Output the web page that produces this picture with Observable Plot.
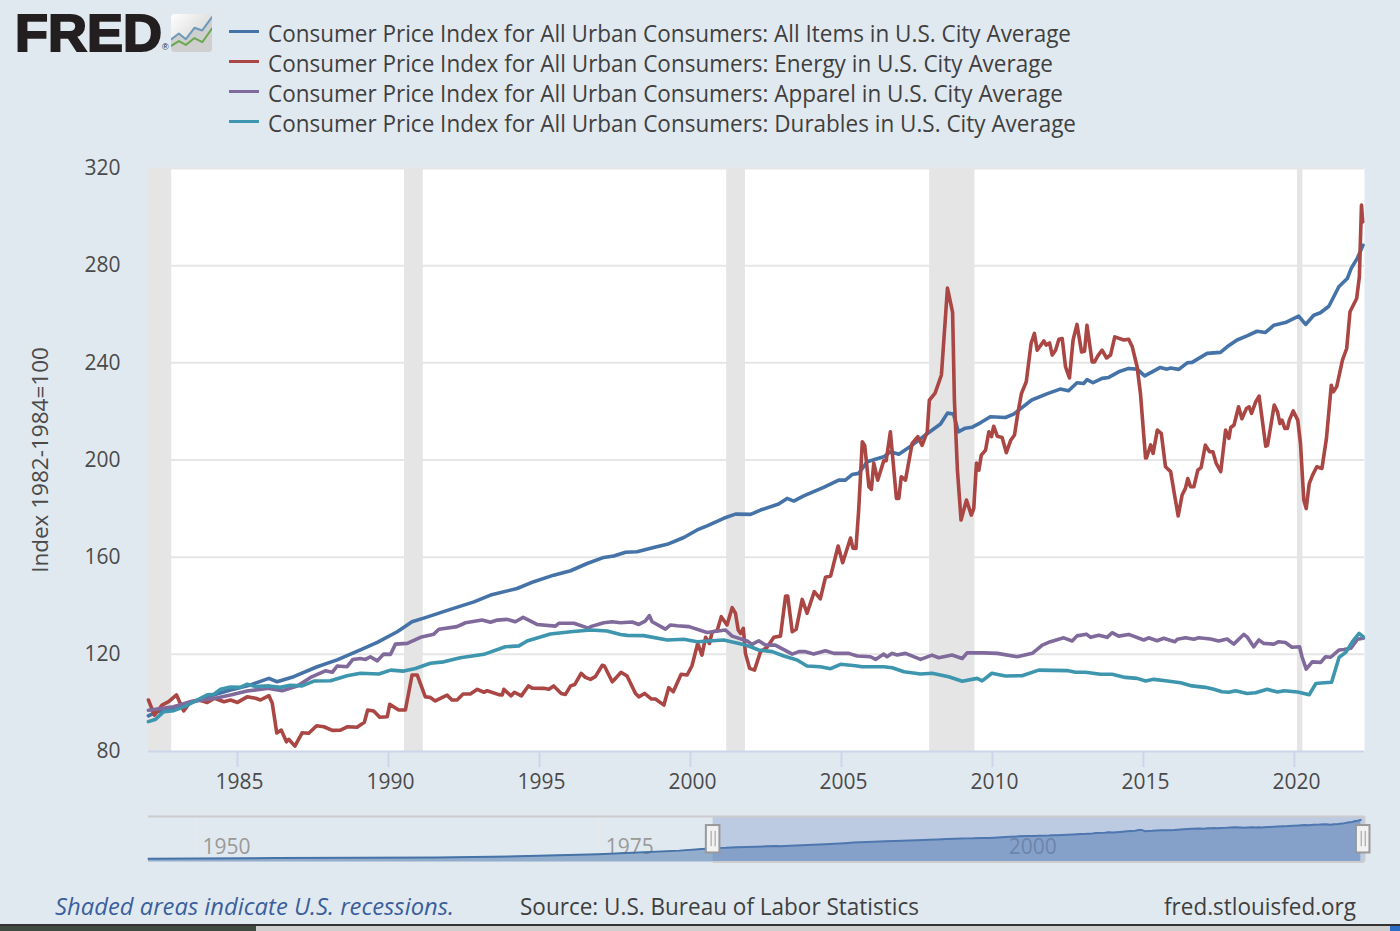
<!DOCTYPE html>
<html><head><meta charset="utf-8">
<script src="https://cdn.jsdelivr.net/npm/d3@7"></script>
<script src="https://cdn.jsdelivr.net/npm/@observablehq/plot@0.6"></script>
<style>
html,body{margin:0;padding:0;background:#e1e9f0;width:1400px;height:931px;overflow:hidden;font-family:"Open Sans",sans-serif;color:#444}
svg{display:block}
#header{position:relative;height:150px}
#logo{position:absolute;left:15px;top:1px;font:bold 52px/64px "Liberation Sans",sans-serif;color:#231f20;-webkit-text-stroke:2px #231f20;white-space:nowrap;transform-origin:0 50%}
#reg{position:absolute;left:162px;top:42px;font:9px "Liberation Sans";color:#231f20}
#icon{position:absolute;left:171px;top:14px}
.leg{position:absolute;left:229px;height:30px}
.sw{position:absolute;left:0;top:13.5px;width:30px;height:3.5px}
.lt{position:absolute;left:39px;top:0;font-size:23px;line-height:34px;white-space:nowrap;transform-origin:0 50%;color:#3f3f3f}
#footer{position:relative;height:54px}
.ft{position:absolute;top:18px;font-size:23px;line-height:36px;white-space:nowrap;transform-origin:0 50%;color:#3f3f3f}
#strip{position:relative;height:7px;background:#cfcfcf;border-top:2px solid #333;box-sizing:border-box}
#strip i{position:absolute;left:0;top:0;bottom:0;width:256px;background:#3f4a40}
#strip b{position:absolute;right:0;top:0;bottom:0;width:10px;background:#2b6cc4}
</style></head><body>
<div id="header">
  <div id="logo">FRED</div><div id="reg">®</div><div id="icon"></div>
</div>
<div id="main"></div>
<div id="nav"></div>
<div id="footer">
  <span class="ft" id="f1" style="left:55px;font-style:italic;color:#3a5f9c">Shaded areas indicate U.S. recessions.</span>
  <span class="ft" id="f2" style="left:520px">Source: U.S. Bureau of Labor Statistics</span>
  <span class="ft" id="f3" style="left:1164px">fred.stlouisfed.org</span>
</div>
<div id="strip"><i></i><b></b></div>
<script>
const seriesNames = [
  "Consumer Price Index for All Urban Consumers: All Items in U.S. City Average",
  "Consumer Price Index for All Urban Consumers: Energy in U.S. City Average",
  "Consumer Price Index for All Urban Consumers: Apparel in U.S. City Average",
  "Consumer Price Index for All Urban Consumers: Durables in U.S. City Average"
];
const seriesColors = ["#4572a7","#aa4643","#80699b","#3d96ae"];
const yTicks = [80,120,160,200,240,280,320];
const xTicks = [1985,1990,1995,2000,2005,2010,2015,2020];
const navTicks = [1950,1975,2000];
const yAxisLabel = "Index 1982-1984=100";
const recessionStart = [1982.053,1990.53,2001.2,2007.92,2020.1];
const recessionEnd = [1982.82,1991.15,2001.82,2009.42,2020.28];

const cpiAll = [[1982.05,94.7],[1982.33,96.4],[1982.9,97.5],[1983.55,100.5],[1984.2,103.3],[1984.77,105.3],[1985.43,107.4],[1986.04,110.1],[1986.31,108.7],[1986.86,110.8],[1987.64,114.9],[1988.3,117.7],[1989.07,121.8],[1989.63,124.9],[1990.29,129.3],[1990.78,133.4],[1991.22,135.1],[1992.05,138.5],[1992.83,141.6],[1993.38,144.4],[1994.26,147.1],[1994.81,149.9],[1995.47,152.6],[1996.03,154.4],[1996.58,157.4],[1997.13,159.9],[1997.46,160.5],[1997.85,162],[1998.23,162.2],[1998.78,164],[1999.23,165.3],[1999.78,168.1],[2000.22,171.2],[2000.55,172.9],[2001.1,176],[2001.49,177.7],[2001.99,177.6],[2002.32,179.4],[2002.92,181.9],[2003.2,184.2],[2003.42,183.1],[2003.75,185.2],[2004.41,188.7],[2004.91,191.7],[2005.13,191.7],[2005.35,194],[2005.57,194.5],[2005.85,199.3],[2006.4,201.3],[2006.62,203.4],[2006.9,202.4],[2007.34,206.1],[2007.78,210.3],[2008.28,214.8],[2008.51,219.3],[2008.71,218.9],[2008.87,211.6],[2009.1,213.1],[2009.33,213.5],[2009.6,215.3],[2009.93,217.8],[2010.43,217.5],[2010.7,218.9],[2011.3,224.7],[2011.8,227.2],[2012.24,229.2],[2012.52,228.5],[2012.8,231.8],[2013.02,231.5],[2013.13,233.1],[2013.33,231.8],[2013.63,233.6],[2013.85,234],[2014.18,236.3],[2014.51,237.7],[2014.79,237.4],[2015.04,234.6],[2015.29,236.3],[2015.56,238.1],[2015.78,237.4],[2015.9,237.9],[2016.17,237.3],[2016.45,240],[2016.61,240.2],[2017.11,243.9],[2017.55,244.3],[2017.77,246.6],[2018.1,249.4],[2018.43,251.1],[2018.76,253],[2019.04,252.5],[2019.32,255.5],[2019.7,256.6],[2020.14,259.2],[2020.37,255.8],[2020.64,259.6],[2020.86,260.6],[2021.14,263.3],[2021.47,271.3],[2021.75,274.7],[2021.88,278.9],[2022.08,283],[2022.27,288.4]];

const cpiEnergy = [[1982.05,101.2],[1982.25,95],[1982.5,99.1],[1982.72,100.5],[1982.98,103.3],[1983.22,96.7],[1983.44,100.5],[1983.72,101.2],[1984,100.2],[1984.24,101.9],[1984.55,100.5],[1984.77,101.2],[1985,100.2],[1985.32,102.5],[1985.6,101.9],[1985.76,101.2],[1986.04,103],[1986.15,100],[1986.3,87.6],[1986.45,88.8],[1986.62,84],[1986.7,85],[1986.9,82.2],[1987.14,87.7],[1987.36,87.5],[1987.62,90.6],[1987.86,90.2],[1988.14,88.7],[1988.41,88.8],[1988.65,90.2],[1988.96,90],[1989.2,92],[1989.31,97.1],[1989.51,96.7],[1989.71,94.1],[1989.96,94.3],[1990.04,99.4],[1990.34,97.1],[1990.56,97.1],[1990.78,111.5],[1990.95,111.5],[1991.22,102.5],[1991.37,102.3],[1991.55,100.8],[1991.94,103.2],[1992.1,101.2],[1992.27,101.2],[1992.47,103.7],[1992.71,103.7],[1992.94,105.6],[1993.16,104.4],[1993.27,105],[1993.65,103.4],[1993.77,103.3],[1993.82,105.6],[1994.06,102.9],[1994.17,104.4],[1994.4,102.9],[1994.63,107],[1994.76,106.1],[1995.14,106],[1995.31,105.6],[1995.47,107],[1995.72,103.9],[1995.86,103.5],[1996.03,107],[1996.17,107.6],[1996.38,112.2],[1996.52,110.5],[1996.69,109.7],[1996.85,110.8],[1997.08,115.5],[1997.15,115.2],[1997.41,108.7],[1997.52,110.1],[1997.7,112.6],[1997.9,111.1],[1998.18,103.9],[1998.29,102.5],[1998.48,103.9],[1998.71,101.6],[1998.84,101.6],[1999.12,99.1],[1999.28,106.3],[1999.43,104.6],[1999.69,111.8],[1999.89,111.5],[2000.05,115.3],[2000.24,124.5],[2000.38,119.7],[2000.5,127],[2000.63,124.5],[2000.72,129.3],[2000.88,129.6],[2001.02,135.5],[2001.21,132.1],[2001.38,139.2],[2001.49,136.9],[2001.58,130],[2001.66,128.6],[2001.75,130.7],[2001.82,120.4],[2001.96,114.2],[2002.12,113.5],[2002.32,121.1],[2002.54,122.9],[2002.76,127],[2002.98,127.5],[2003.15,144],[2003.22,144],[2003.37,129.3],[2003.5,130.3],[2003.7,142.6],[2003.86,136.9],[2004.1,145.8],[2004.3,142.8],[2004.47,151.7],[2004.64,152.2],[2004.89,164.6],[2005.04,157.7],[2005.3,167.9],[2005.38,163.7],[2005.48,163.6],[2005.57,179.4],[2005.69,207.5],[2005.77,206],[2005.91,189],[2005.99,187.9],[2006.07,198.7],[2006.2,191.7],[2006.4,199.7],[2006.48,199.7],[2006.62,211.6],[2006.82,184.2],[2006.9,184.2],[2006.98,193.1],[2007.12,191.7],[2007.34,206.8],[2007.53,209.6],[2007.67,206],[2007.84,211.6],[2007.91,224.6],[2008.1,227.5],[2008.31,235],[2008.51,270.8],[2008.68,260.8],[2008.74,224.6],[2008.84,195.8],[2008.96,175.3],[2009.14,183.5],[2009.3,177.3],[2009.38,180],[2009.47,198.7],[2009.55,195.8],[2009.63,202],[2009.77,204],[2009.88,211.6],[2009.97,209.6],[2010.04,213.9],[2010.16,209.8],[2010.32,209.3],[2010.46,203],[2010.6,208],[2010.73,210.3],[2010.84,219.2],[2010.96,227.4],[2011.12,232.2],[2011.28,248],[2011.39,252.1],[2011.48,245.2],[2011.7,249],[2011.78,247.3],[2011.89,248.2],[2011.98,243.2],[2012.09,245.2],[2012.2,249.7],[2012.31,250],[2012.42,238.3],[2012.55,233.8],[2012.67,249.4],[2012.8,255.8],[2012.95,244.5],[2013.05,244.8],[2013.13,255.5],[2013.3,240.4],[2013.38,240.4],[2013.49,242.9],[2013.63,245.2],[2013.78,242],[2013.91,243.2],[2014.05,250.7],[2014.35,249.4],[2014.51,249.7],[2014.63,246.6],[2014.79,238.4],[2014.9,227.5],[2015.07,200.8],[2015.1,200.8],[2015.24,206.2],[2015.32,202.7],[2015.46,212.3],[2015.59,211],[2015.73,197.2],[2015.9,195.2],[2016.04,184.9],[2016.15,177],[2016.28,185.6],[2016.39,188.3],[2016.47,192.4],[2016.56,189],[2016.67,189],[2016.8,195.8],[2016.91,196.9],[2017.05,206.1],[2017.19,203.4],[2017.3,203.4],[2017.41,198.6],[2017.56,195.2],[2017.72,212.3],[2017.83,208.9],[2017.89,213.4],[2018,214.4],[2018.15,221.9],[2018.26,217],[2018.41,221.2],[2018.5,221.9],[2018.58,219.2],[2018.72,224],[2018.83,226.3],[2019.05,205.7],[2019.11,206.1],[2019.33,222.6],[2019.44,219.8],[2019.52,215],[2019.59,216.4],[2019.68,213],[2019.77,213],[2019.83,216.4],[2019.96,220.2],[2020.11,216.4],[2020.2,206.8],[2020.31,183.5],[2020.39,180],[2020.49,190.3],[2020.6,193.8],[2020.74,197.2],[2020.91,196.5],[2021.06,208.9],[2021.22,230.8],[2021.29,228.1],[2021.4,230.2],[2021.59,241.1],[2021.73,245.9],[2021.84,261],[2022.06,266.5],[2022.15,275.4],[2022.22,305],[2022.26,298]];

const cpiApparel = [[1982.05,97],[1982.88,98.4],[1983.44,100.5],[1984.27,101.9],[1984.77,103.3],[1985.32,104.9],[1985.98,106],[1986.48,105],[1986.98,107],[1987.42,110.5],[1987.91,113.2],[1988.14,112.6],[1988.3,115.2],[1988.63,114.9],[1988.82,117.9],[1989.07,118.3],[1989.24,117.9],[1989.4,119],[1989.63,117.3],[1989.84,120.1],[1990.07,120],[1990.23,124.2],[1990.62,124.5],[1991.06,127],[1991.5,128.3],[1991.67,130.3],[1992.27,131.4],[1992.55,133],[1993.1,134.1],[1993.38,133.2],[1993.6,134.1],[1993.93,134.4],[1994.2,133.4],[1994.46,135.2],[1994.92,132.3],[1995.53,131.6],[1995.64,132.8],[1996.14,132.8],[1996.64,130.7],[1996.69,131.4],[1997.13,133],[1997.41,133.4],[1997.68,133],[1998.07,133.3],[1998.29,132.3],[1998.5,133.7],[1998.64,135.9],[1998.73,133.4],[1999.17,130.4],[1999.34,132.1],[1999.56,131.8],[1999.95,131.4],[2000.55,129],[2001.16,130],[2001.38,127.5],[2001.88,125.5],[2002.04,124.1],[2002.26,125.6],[2002.48,123.8],[2002.81,123.8],[2003.37,120.1],[2003.59,121.1],[2003.81,121.1],[2004.08,120.1],[2004.47,121.5],[2004.75,120.4],[2005.24,120.4],[2005.52,119.3],[2005.96,119],[2006.13,117.9],[2006.4,120.1],[2006.51,119],[2006.68,120.4],[2006.84,119.7],[2007.12,120.4],[2007.62,117.9],[2008,119.7],[2008.22,118.6],[2008.66,119.7],[2009,118.3],[2009.16,120.6],[2009.72,120.6],[2010.16,120.4],[2010.82,119],[2011.32,120.4],[2011.65,123.8],[2011.92,125.2],[2012.36,126.8],[2012.64,125.5],[2012.8,127.6],[2013.11,128.3],[2013.25,127],[2013.52,127.9],[2013.8,127],[2013.96,128.9],[2014.18,127.5],[2014.51,128.2],[2015.01,125.9],[2015.17,126.8],[2015.45,125.6],[2015.67,126.6],[2016.04,125.2],[2016.12,126.2],[2016.39,126.8],[2016.67,126.2],[2016.83,126.8],[2017.22,126.3],[2017.49,125.5],[2017.77,126.3],[2017.99,124.2],[2018.32,128.2],[2018.43,127.2],[2018.65,123.1],[2018.82,125.9],[2018.98,124.5],[2019.32,124.2],[2019.48,125.2],[2019.7,124.9],[2019.92,122.9],[2020.17,123.1],[2020.25,119],[2020.39,113.9],[2020.59,116.9],[2020.87,116.7],[2021.03,119],[2021.2,118.8],[2021.48,121.8],[2021.64,122],[2021.87,122.5],[2022.09,126.2],[2022.28,126.6]];

const cpiDurables = [[1982.05,92.3],[1982.29,93.3],[1982.56,96.4],[1982.89,96.8],[1983.28,98.7],[1983.66,101.2],[1984,103.3],[1984.21,103.5],[1984.44,105.6],[1984.77,106.5],[1985.1,106.4],[1985.32,107.7],[1985.6,106.7],[1986.04,107],[1986.42,106.4],[1986.75,107.3],[1987.14,107],[1987.53,109],[1988.08,109.1],[1988.63,111.2],[1989.07,112.2],[1989.68,111.9],[1990.07,113.5],[1990.51,113.1],[1990.89,114.2],[1991.39,116.3],[1991.83,116.9],[1992.38,118.6],[1993.16,120],[1993.87,123.1],[1994.32,123.5],[1994.59,125.5],[1995.36,128.4],[1996.03,129.3],[1996.69,130],[1997.24,129.6],[1997.68,128.2],[1997.9,127.8],[1998.45,127.7],[1999.23,125.9],[1999.78,126.2],[2000.22,125.2],[2001.1,125.9],[2001.82,123.8],[2001.99,123.1],[2002.26,121.8],[2002.71,121.1],[2003.09,119.3],[2003.53,117.7],[2003.86,115.2],[2004.3,114.9],[2004.64,114.1],[2004.97,115.9],[2005.46,115.3],[2005.69,114.9],[2006.4,114.9],[2006.68,114.5],[2007.07,112.8],[2007.62,111.9],[2008,112.2],[2008.55,110.8],[2009,108.9],[2009.49,110.1],[2009.66,109.1],[2009.98,112.2],[2010.43,111.1],[2010.98,111.2],[2011.53,113.5],[2012.47,113.3],[2012.75,112.6],[2013.08,112.6],[2013.58,111.8],[2013.96,111.8],[2014.4,110.5],[2014.79,110.1],[2015.07,109],[2015.34,109.7],[2015.73,109.1],[2016.23,108.3],[2016.61,107],[2017.05,106.4],[2017.33,105.6],[2017.6,104.6],[2017.83,104.4],[2018.05,105],[2018.43,103.9],[2018.71,104.2],[2019.1,105.6],[2019.44,104.5],[2019.66,105],[2020.11,104.5],[2020.49,103.4],[2020.71,108],[2020.99,108.3],[2021.23,108.5],[2021.48,118.8],[2021.7,120.8],[2021.92,125.2],[2022.14,128.6],[2022.28,127.2]];

// Navigator (full history, All Items only), before the main range begins
const navEarly = [[1947.08,21.5],[1950,23.5],[1955,26.8],[1960,29.4],[1965,31.5],[1970,38.8],[1975,53.5],[1980,78],[1982.05,94.7]];
// Logo glyph
const iconBlue = [.35,.5,.35,.65,.58,.95];
const iconGreen = [.18,.3,.2,.38,.27,.65];
const iconX = [0,.18,.35,.56,.75,1];

const allSeries = [cpiAll,cpiEnergy,cpiApparel,cpiDurables];
const rows = seriesNames.flatMap((name,i)=>allSeries[i].map(([x,y])=>({x,y,name})));
const recessions = recessionStart.map((x1,i)=>({x1,x2:recessionEnd[i]}));

const axisColor="#ccd6eb", gridColor="#e6e6e6", textColor="#4a4a4a";
const main = Plot.plot({
  width:1400,height:650,marginTop:18,marginBottom:49,marginLeft:148,marginRight:36,
  style:{background:"transparent",fontFamily:"'Open Sans',sans-serif",fontSize:"21px",overflow:"visible"},
  x:{domain:[1982.053,2022.32]},
  y:{domain:[80,320]},
  color:{domain:seriesNames,range:seriesColors},
  marks:[
    Plot.frame({fill:"#fff",stroke:null}),
    Plot.ruleY(yTicks.slice(1),{stroke:gridColor,strokeWidth:2}),
    Plot.rectY(recessions,{x1:"x1",x2:"x2",y1:80,y2:320,fill:"#e5e5e5"}),
    Plot.ruleY([80],{stroke:axisColor,strokeWidth:2}),
    Plot.axisY({ticks:yTicks,tickSize:0,tickPadding:28,fill:textColor,label:null}),
    Plot.text([yAxisLabel],{frameAnchor:"left",textAnchor:"middle",rotate:-90,dx:-108,fontSize:22.5,fill:textColor}),
    Plot.axisX({ticks:xTicks,tickFormat:null,text:null,tickSize:16,stroke:axisColor,strokeWidth:2,label:null}),
    Plot.axisX({ticks:xTicks,tickFormat:d=>String(d),tickSize:0,tickPadding:23,fill:textColor,label:null,dx:2}),
    Plot.line(rows,{x:"x",y:"y",z:"name",stroke:"name",strokeWidth:3.6,strokeLinejoin:"round",curve:"linear"})
  ]
});
document.getElementById("main").append(main);

const navRows = navEarly.concat(cpiAll.slice(1));
const navHandleAt = [1982.1,2022.42];
const navTop = 312;
const nav = Plot.plot({
  width:1400,height:70,marginTop:16,marginBottom:8.5,marginLeft:148,marginRight:36,
  style:{background:"transparent",fontFamily:"'Open Sans',sans-serif",fontSize:"21px",overflow:"visible"},
  x:{domain:[1947.08,2022.5],axis:null},
  y:{domain:[0,navTop],axis:null},
  marks:[
    Plot.ruleX(navTicks,{stroke:"#e8e8e8",strokeWidth:1}),
    Plot.text(navTicks,{x:d=>d,y:102,text:d=>String(d),textAnchor:"start",dx:7,fill:"#999"}),
    Plot.areaY(navRows,{x:d=>d[0],y:d=>d[1],fill:"#4572a7",fillOpacity:.5}),
    Plot.line(navRows,{x:d=>d[0],y:d=>d[1],stroke:"#4572a7",strokeWidth:2}),
    Plot.rectY([0],{x1:1982.1,x2:2022.5,y1:0,y2:navTop,fill:"#6685c2",fillOpacity:.3}),
    Plot.ruleY([navTop],{stroke:"#ccc",strokeWidth:2}),
    Plot.ruleY([0],{x1:1982.1,x2:2022.5,stroke:"#ccc",strokeWidth:2}),
    Plot.ruleX([2022.5],{y1:0,y2:navTop,stroke:"#ccc",strokeWidth:2}),
    Plot.rect(navHandleAt,{x1:d=>d-.42,x2:d=>d+.42,y1:62,y2:250,fill:"#f2f2f2",stroke:"#999",strokeWidth:2}),
    Plot.ruleX(navHandleAt,{y1:105,y2:210,dx:-2,stroke:"#999",strokeWidth:1}),
    Plot.ruleX(navHandleAt,{y1:105,y2:210,dx:2,stroke:"#999",strokeWidth:1})
  ]
});
document.getElementById("nav").append(nav);

const icon = Plot.plot({
  width:41,height:38,margin:0,
  style:{background:"linear-gradient(135deg,#fff 0%,#e6e6e6 45%,#ccc 100%)",borderRadius:"4px",overflow:"hidden"},
  x:{domain:[0,1],axis:null},y:{domain:[0,1],axis:null},
  marks:[
    Plot.areaY(iconX,{x:d=>d,y:(d,i)=>iconBlue[i],fill:"#cfcfcf"}),
    Plot.line(iconX,{x:d=>d,y:(d,i)=>iconBlue[i],stroke:"#6c9ab8",strokeWidth:2}),
    Plot.line(iconX,{x:d=>d,y:(d,i)=>iconGreen[i],stroke:"#6aa84f",strokeWidth:2})
  ]
});
document.getElementById("icon").append(icon);

// Legend rows
const header=document.getElementById("header");
seriesNames.forEach((name,i)=>{
  const row=document.createElement("div");row.className="leg";row.style.top=(16+30*i)+"px";
  const sw=document.createElement("div");sw.className="sw";sw.style.background=seriesColors[i];
  const t=document.createElement("span");t.className="lt";t.textContent=name;
  row.append(sw,t);header.append(row);
});
function fit(el,w){el.style.transform=`scaleX(${w/el.getBoundingClientRect().width})`;}
const legendWidths=[803,785,795,808];
document.querySelectorAll(".lt").forEach((el,i)=>fit(el,legendWidths[i]));
fit(document.getElementById("f1"),399);
fit(document.getElementById("f2"),399);
fit(document.getElementById("f3"),192);
fit(document.getElementById("logo"),147);
</script>
</body></html>
